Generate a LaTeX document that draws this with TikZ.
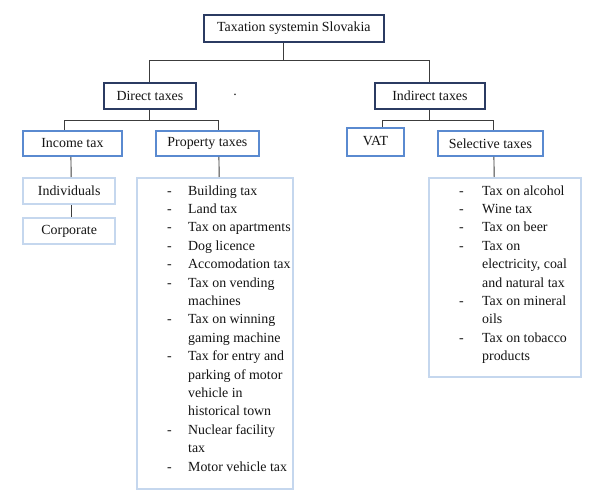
\documentclass[tikz,border=0pt]{standalone}
\usepackage{fontspec}
\setmainfont{Liberation Serif}
\usetikzlibrary{calc}
\definecolor{navyb}{HTML}{2B3B62}
\definecolor{midb}{HTML}{5A8AD0}
\definecolor{paleb}{HTML}{C5D7EE}
\definecolor{connc}{HTML}{3C3C3C}
\definecolor{txtc}{HTML}{141414}
\begin{document}
\begin{tikzpicture}[x=1pt,y=-1pt,
  every node/.style={text=txtc, font=\fontsize{13.9}{18.4}\selectfont, inner sep=0pt},
  boxbase/.style={anchor=north west, fill=white},
  lvlone/.style={boxbase, draw=navyb, line width=1.8pt},
  lvltwo/.style={boxbase, draw=midb, line width=1.8pt},
  lvlthree/.style={boxbase, draw=paleb, line width=2.4pt},
  conn/.style={draw=connc, line width=0.9pt},
  listtext/.style={anchor=north west, align=left}]
\useasboundingbox (0,0) rectangle (600,500);
\fill[white] (0,0) rectangle (600,500);

% level one
\node[lvlone, minimum width=180pt, minimum height=27pt] (title) at (203,14) {Taxation systemin Slovakia};
\node[lvlone, minimum width=92pt, minimum height=26pt] (direct) at (103,82) {Direct taxes};
\node[lvlone, minimum width=110pt, minimum height=26pt] (indirect) at (374,82) {Indirect taxes};
\node (dot) at (235,95) {.};

% level two
\node[lvltwo, minimum width=99pt, minimum height=25pt] (income) at (22,130) {Income tax};
\node[lvltwo, minimum width=103pt, minimum height=25pt] (property) at (155,130) {Property taxes};
\node[lvltwo, minimum width=57pt, minimum height=28pt] (vat) at (346,127) {\raisebox{2pt}{VAT}};
\node[lvltwo, minimum width=105pt, minimum height=25pt] (selective) at (437,130) {Selective taxes};

% level three
\node[lvlthree, minimum width=92pt, minimum height=26pt] (indiv) at (22,177) {Individuals};
\node[lvlthree, minimum width=92pt, minimum height=26pt] (corp) at (22,217) {Corporate};
\node[lvlthree, minimum width=156pt, minimum height=311pt] (plist) at (136,177) {};
\node[lvlthree, minimum width=152pt, minimum height=199pt] (slist) at (428,177) {};

\node[listtext] (plisttext) at ($(plist.north west)+(31,5)$) {%
\begin{tabular}{@{}p{21pt}@{}l@{}}
- & Building tax\\
- & Land tax\\
- & Tax on apartments\\
- & Dog licence\\
- & Accomodation tax\\
- & Tax on vending\\
  & machines\\
- & Tax on winning\\
  & gaming machine\\
- & Tax for entry and\\
  & parking of motor\\
  & vehicle in\\
  & historical town\\
- & Nuclear facility\\
  & tax\\
- & Motor vehicle tax
\end{tabular}};

\node[listtext] (slisttext) at ($(slist.north west)+(31,5)$) {%
\begin{tabular}{@{}p{23pt}@{}l@{}}
- & Tax on alcohol\\
- & Wine tax\\
- & Tax on beer\\
- & Tax on\\
  & electricity, coal\\
  & and natural tax\\
- & Tax on mineral\\
  & oils\\
- & Tax on tobacco\\
  & products
\end{tabular}};

% connectors
\draw[conn] ([xshift=-10pt]title.south) -- ++(0,18) -| (direct.north);
\draw[conn] ([xshift=-10pt]title.south) -- ++(0,18) -| (indirect.north);
\draw[conn] (direct.south) -- ++(0,11) -| ([xshift=-7.5pt]income.north);
\draw[conn] (direct.south) -- ++(0,11) -| ([xshift=11.5pt]property.north);
\draw[conn] (indirect.south) -- ++(0,11) -| ([xshift=7.5pt]vat.north);
\draw[conn] (indirect.south) -- ++(0,11) -| ([xshift=3.5pt]selective.north);
\draw[conn] ([xshift=-1.5pt]income.south) -- ([xshift=2pt]indiv.north);
\draw[conn] ([xshift=2pt]indiv.south) -- ([xshift=2pt]corp.north);
\draw[conn] ([xshift=11.5pt]property.south) -- ([xshift=4pt]plist.north);
\draw[conn] ([xshift=3.5pt]selective.south) -- ([xshift=-11pt]slist.north);
\end{tikzpicture}
\end{document}
